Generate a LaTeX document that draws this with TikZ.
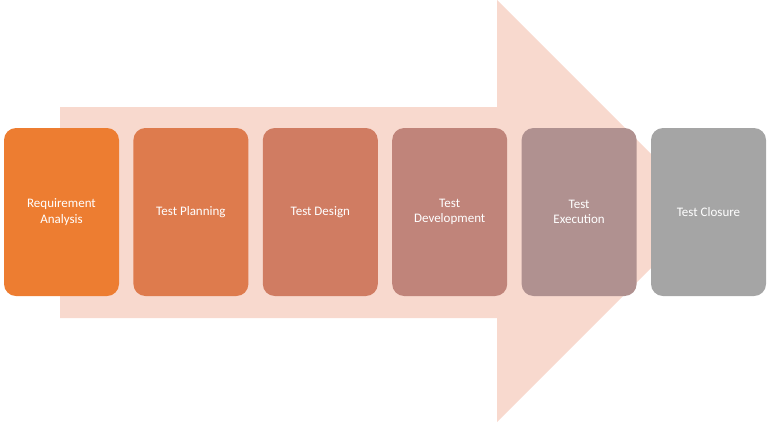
\documentclass[tikz,border=0pt]{standalone}
\usepackage{fontspec}
\setmainfont{Carlito}
\usetikzlibrary{positioning}
\definecolor{arrowbg}{HTML}{F8D9CE}
\definecolor{stepA}{HTML}{ED7D31}
\definecolor{stepB}{HTML}{DE7B4D}
\definecolor{stepC}{HTML}{D07C62}
\definecolor{stepD}{HTML}{C0847A}
\definecolor{stepE}{HTML}{B09190}
\definecolor{stepF}{HTML}{A5A5A5}
\begin{document}
\begin{tikzpicture}[x=1pt, y=-1pt]
\tikzset{phase/.style = {rounded corners=12pt, minimum width=115pt, minimum height=168pt,
    text=white, align=center, font=\fontsize{13}{15.6}\selectfont, inner sep=0pt}}
\useasboundingbox (0,0) rectangle (768,432);
% Big background arrow
\fill[arrowbg] (60,107) -- (497,107) -- (497,0) -- (708,211) -- (497,422) -- (497,318) -- (60,318) -- cycle;
% Phases
\node[phase, fill=stepA] (req) at (61.5,212) {Requirement\\Analysis};
\node[phase, fill=stepB, right=14pt of req] (plan) {Test Planning};
\node[phase, fill=stepC, right=14pt of plan] (design) {Test Design};
\node[phase, fill=stepD, right=14pt of design] (dev) {Test\\Development};
\node[phase, fill=stepE, right=14pt of dev] (exec) {Test\\Execution};
\node[phase, fill=stepF, right=14pt of exec] (close) {Test Closure};
\end{tikzpicture}
\end{document}
